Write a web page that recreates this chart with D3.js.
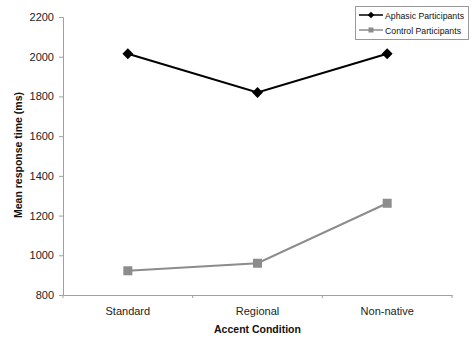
<!DOCTYPE html>
<html><head><meta charset="utf-8">
<script src="https://cdn.jsdelivr.net/npm/d3@7"></script>
<style>body{margin:0;background:#fff;}svg{display:block;font-family:"Liberation Sans",Arial,sans-serif;}</style>
</head><body>
<svg id="c" width="474" height="350"></svg>
<script>
const categories = ["Standard", "Regional", "Non-native"];
const aphasic = [2015, 1820, 2015];
const control = [922, 960, 1262];
const yTicks = [800, 1000, 1200, 1400, 1600, 1800, 2000, 2200];
const seriesNames = ["Aphasic Participants", "Control Participants"];

const svg = d3.select("#c");
const m = {l: 63, r: 22, t: 17, b: 55};
const W = 474, H = 350;
const x = d3.scaleBand().domain(categories).range([m.l, W - m.r]);
const y = d3.scaleLinear().domain([800, 2200]).range([H - m.b, m.t]);

const axisColor = "#a0a0a0";
const ya = svg.append("g").attr("transform", `translate(${m.l},0)`)
  .call(d3.axisLeft(y).tickValues(yTicks).tickFormat(d3.format("d")).tickSize(4).tickPadding(5));
const xa = svg.append("g").attr("transform", `translate(0,${H - m.b})`)
  .call(d3.axisBottom(x).tickSize(0).tickPadding(12));
[ya, xa].forEach(g => {
  g.select(".domain").attr("stroke", axisColor);
  g.selectAll(".tick line").attr("stroke", axisColor);
  g.selectAll("text").attr("fill", "#222").style("font-size", "11px");
});
const bounds = categories.map(c => x(c)).concat([x(categories[2]) + x.bandwidth()]);
svg.append("g").selectAll("line").data(bounds).join("line")
  .attr("x1", d => d).attr("x2", d => d)
  .attr("y1", H - m.b).attr("y2", H - m.b + 3)
  .attr("stroke", axisColor);

svg.append("text").attr("x", (m.l + W - m.r) / 2).attr("y", 333)
  .attr("text-anchor", "middle").style("font-size", "10.5px").style("font-weight", "bold")
  .attr("fill", "#111").text("Accent Condition");
svg.append("text").attr("transform", `translate(22,155) rotate(-90)`)
  .attr("text-anchor", "middle").style("font-size", "10.5px").style("font-weight", "bold")
  .attr("fill", "#111").text("Mean response time (ms)");

const cx = c => x(c) + x.bandwidth() / 2;
const line = d3.line().x((d, i) => cx(categories[i])).y(d => y(d));

svg.append("path").datum(control).attr("d", line).attr("fill", "none")
  .attr("stroke", "#8c8c8c").attr("stroke-width", 2);
svg.append("g").selectAll("rect").data(control).join("rect")
  .attr("x", (d, i) => cx(categories[i]) - 4.5).attr("y", d => y(d) - 4.5)
  .attr("width", 9).attr("height", 9).attr("fill", "#8c8c8c");

svg.append("path").datum(aphasic).attr("d", line).attr("fill", "none")
  .attr("stroke", "#000").attr("stroke-width", 2);
const diamond = d3.symbol().type(d3.symbolDiamond2).size(75);
svg.append("g").selectAll("path").data(aphasic).join("path")
  .attr("transform", (d, i) => `translate(${cx(categories[i])},${y(d)})`)
  .attr("d", diamond).attr("fill", "#000");

const lg = svg.append("g");
lg.append("rect").attr("x", 355.5).attr("y", 6.5).attr("width", 113).attr("height", 33)
  .attr("fill", "#fff").attr("stroke", "#999");
const lcol = ["#000", "#8c8c8c"];
seriesNames.forEach((n, i) => {
  const yy = 15 + i * 15;
  lg.append("line").attr("x1", 359).attr("x2", 383).attr("y1", yy).attr("y2", yy)
    .attr("stroke", lcol[i]).attr("stroke-width", 1.5);
  if (i === 0) lg.append("path").attr("transform", `translate(371,${yy})`)
    .attr("d", d3.symbol().type(d3.symbolDiamond2).size(28)).attr("fill", "#000");
  else lg.append("rect").attr("x", 368.5).attr("y", yy - 2.5).attr("width", 5).attr("height", 5).attr("fill", lcol[i]);
  lg.append("text").attr("x", 385).attr("y", yy + 3.5).style("font-size", "9px")
    .attr("textLength", i === 0 ? 79 : 76).attr("lengthAdjust", "spacingAndGlyphs")
    .attr("fill", "#111").text(n);
});
</script>
</body></html>
